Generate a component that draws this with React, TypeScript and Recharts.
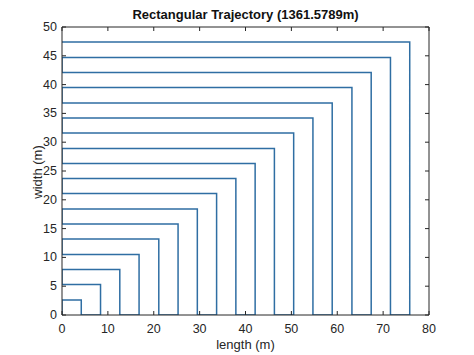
import { LineChart, Line, XAxis, YAxis, ReferenceLine } from 'recharts';

// L-shaped passes: corner x (length) and corner y (width) of each pass
const lengthSteps = [4.2, 8.4, 12.6, 16.8, 21.1, 25.3, 29.5, 33.7, 37.9, 42.1, 46.3, 50.5, 54.7, 58.9, 63.2, 67.4, 71.6, 75.8];
const widthSteps = [2.6, 5.3, 7.9, 10.5, 13.2, 15.8, 18.4, 21.1, 23.7, 26.3, 28.9, 31.6, 34.2, 36.8, 39.5, 42.1, 44.7, 47.4];

const xTicks = [0, 10, 20, 30, 40, 50, 60, 70, 80];
const yTicks = [0, 5, 10, 15, 20, 25, 30, 35, 40, 45, 50];

const title = 'Rectangular Trajectory (1361.5789m)';

// walk the passes in order: up the y axis / out along x, then back to the axis
const path: { x: number; y: number }[] = [{ x: 0, y: 0 }];
lengthSteps.forEach((lx, i) => {
  const wy = widthSteps[i];
  if (i % 2 === 0) {
    path.push({ x: 0, y: wy }, { x: lx, y: wy }, { x: lx, y: 0 });
  } else {
    path.push({ x: lx, y: 0 }, { x: lx, y: wy }, { x: 0, y: wy });
  }
});

const W = 474, H = 355;
const PL = 62, PR = 429, PT = 27, PB = 315;
const INK = '#262626';
const FONT = '"Liberation Sans", Arial, sans-serif';

// MATLAB style: ticks point inwards, mirrored on top and right
function BottomTick({ x, payload }: any) {
  return (
    <g>
      <line x1={x} x2={x} y1={PB} y2={PB - 4} stroke={INK} />
      <line x1={x} x2={x} y1={PT} y2={PT + 4} stroke={INK} />
      <text x={x} y={PB + 18} textAnchor="middle" fill={INK} fontSize={12.5} fontFamily={FONT}>{payload.value}</text>
    </g>
  );
}

function LeftTick({ y, payload }: any) {
  return (
    <g>
      <line x1={PL} x2={PL + 4} y1={y} y2={y} stroke={INK} />
      <line x1={PR} x2={PR - 4} y1={y} y2={y} stroke={INK} />
      <text x={PL - 5} y={y + 4} textAnchor="end" fill={INK} fontSize={12.5} fontFamily={FONT}>{payload.value}</text>
    </g>
  );
}

export default function App() {
  return (
    <div style={{ position: 'absolute', left: 0, top: 0, width: W, height: H, background: '#fff', fontFamily: FONT }}>
      <LineChart
        width={W}
        height={H}
        data={path}
        margin={{ top: PT, right: W - PR, bottom: H - PB - 30, left: PL - 40 }}
      >
        <XAxis dataKey="x" type="number" domain={[0, 80]} ticks={xTicks} interval={0}
          height={30} stroke={INK} tickLine={false} tick={<BottomTick />} allowDataOverflow />
        <YAxis type="number" domain={[0, 50]} ticks={yTicks} interval={0}
          width={40} stroke={INK} tickLine={false} tick={<LeftTick />} allowDataOverflow />
        <ReferenceLine y={50} stroke={INK} />
        <ReferenceLine x={80} stroke={INK} />
        <Line dataKey="y" type="linear" stroke="#2f6ea3" strokeWidth={1.5}
          dot={false} isAnimationActive={false} />
      </LineChart>
      <div style={{ position: 'absolute', left: PL, width: PR - PL, top: 7, textAlign: 'center', fontWeight: 'bold', fontSize: 13, color: '#111' }}>
        {title}
      </div>
      <div style={{ position: 'absolute', left: PL, width: PR - PL, top: 337, textAlign: 'center', fontSize: 13, color: INK }}>
        length (m)
      </div>
      <div style={{ position: 'absolute', left: 37, top: 172, transform: 'translate(-50%, -50%) rotate(-90deg)', whiteSpace: 'nowrap', fontSize: 13, color: INK }}>
        width (m)
      </div>
    </div>
  );
}
